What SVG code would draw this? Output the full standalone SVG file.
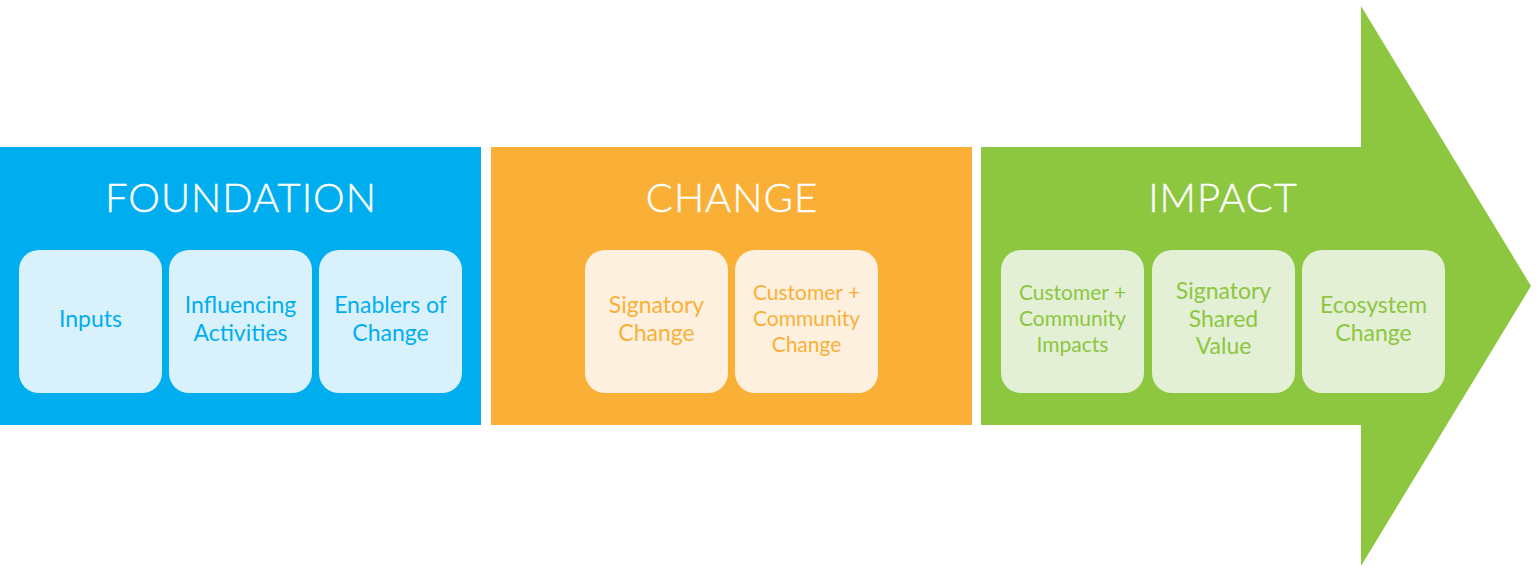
<svg xmlns="http://www.w3.org/2000/svg" width="1536" height="581" viewBox="0 0 1536 581">
  <style>
    .title { font-family: Lato, "Open Sans", sans-serif; font-weight: 300; font-size: 40px; fill: #ffffff; text-anchor: middle; letter-spacing: 1px; stroke: #ffffff; stroke-width: 0.4px; }
    .lbl { font-family: Lato, "Open Sans", sans-serif; font-size: 23px; text-anchor: middle; }
    .sm { font-size: 21px; }
    .blue-box { fill: #D9F1FB; }
    .orange-box { fill: #FDF0DF; }
    .green-box { fill: #E3F0D6; }
    .blue-t { fill: #00AEEF; }
    .orange-t { fill: #FAB037; }
    .green-t { fill: #8DC63F; }
  </style>
  <rect width="1536" height="581" fill="#ffffff"/>

  <g id="foundation">
    <rect x="0" y="147" width="481" height="278" fill="#00AEEF"/>
    <text class="title" x="241" y="212">FOUNDATION</text>
  </g>
  <g id="inputs">
    <rect class="blue-box" x="19" y="250" width="143" height="143" rx="20"/>
    <text class="lbl blue-t" x="90.5" y="327">Inputs</text>
  </g>
  <g id="influencing">
    <rect class="blue-box" x="169" y="250" width="143" height="143" rx="20"/>
    <text class="lbl blue-t" x="240.5" y="313">Influencing</text>
    <text class="lbl blue-t" x="240.5" y="341">Activities</text>
  </g>
  <g id="enablers">
    <rect class="blue-box" x="319" y="250" width="143" height="143" rx="20"/>
    <text class="lbl blue-t" x="390.5" y="313">Enablers of</text>
    <text class="lbl blue-t" x="390.5" y="341">Change</text>
  </g>

  <g id="change">
    <rect x="491" y="147" width="481" height="278" fill="#FAB037"/>
    <text class="title" x="732" y="212">CHANGE</text>
  </g>
  <g id="signatory-change">
    <rect class="orange-box" x="585" y="250" width="143" height="143" rx="20"/>
    <text class="lbl orange-t" x="656.5" y="313">Signatory</text>
    <text class="lbl orange-t" x="656.5" y="341">Change</text>
  </g>
  <g id="customer-change">
    <rect class="orange-box" x="735" y="250" width="143" height="143" rx="20"/>
    <text class="lbl sm orange-t" x="806.5" y="300">Customer +</text>
    <text class="lbl sm orange-t" x="806.5" y="326">Community</text>
    <text class="lbl sm orange-t" x="806.5" y="352">Change</text>
  </g>

  <g id="impact">
    <path d="M981,147 H1361 V6 L1531,286 L1361,566 V425 H981 Z" fill="#8DC63F"/>
    <text class="title" x="1223" y="212">IMPACT</text>
  </g>
  <g id="customer-impacts">
    <rect class="green-box" x="1001" y="250" width="143" height="143" rx="20"/>
    <text class="lbl sm green-t" x="1072.5" y="300">Customer +</text>
    <text class="lbl sm green-t" x="1072.5" y="326">Community</text>
    <text class="lbl sm green-t" x="1072.5" y="352">Impacts</text>
  </g>
  <g id="shared-value">
    <rect class="green-box" x="1152" y="250" width="143" height="143" rx="20"/>
    <text class="lbl green-t" x="1223.5" y="299">Signatory</text>
    <text class="lbl green-t" x="1223.5" y="327">Shared</text>
    <text class="lbl green-t" x="1223.5" y="354">Value</text>
  </g>
  <g id="ecosystem">
    <rect class="green-box" x="1302" y="250" width="143" height="143" rx="20"/>
    <text class="lbl green-t" x="1373.5" y="313">Ecosystem</text>
    <text class="lbl green-t" x="1373.5" y="341">Change</text>
  </g>

  <g id="connectors"></g>
</svg>
